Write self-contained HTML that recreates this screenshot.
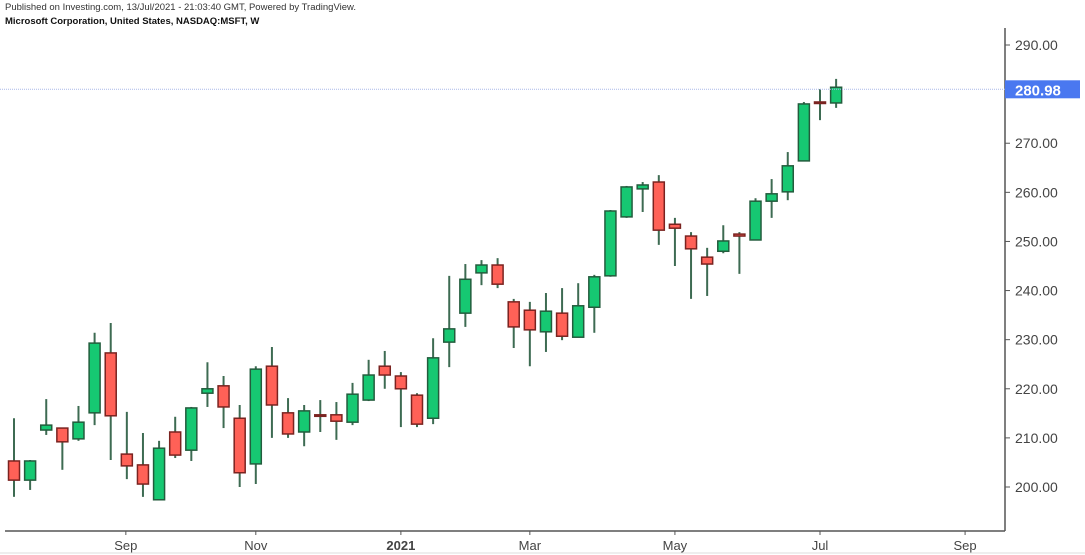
<!DOCTYPE html>
<html><head><meta charset="utf-8"><style>
body{margin:0;background:#fff;width:1085px;height:555px;overflow:hidden;font-family:"Liberation Sans",Arial,sans-serif}
svg{position:absolute;left:0;top:0}
</style></head><body>
<svg id="chart" width="1085" height="555">
<text x="5" y="10" font-size="9.5" fill="#333">Published on Investing.com, 13/Jul/2021 - 21:03:40 GMT, Powered by TradingView.</text>
<text x="5" y="24" font-size="9.5" font-weight="bold" fill="#111">Microsoft Corporation, United States, NASDAQ:MSFT, W</text>
<line x1="1005" y1="28" x2="1005" y2="531" stroke="#555" stroke-width="1.5"/>
<line x1="5" y1="531" x2="1005" y2="531" stroke="#555" stroke-width="1.5"/>
<line x1="0" y1="553" x2="1085" y2="553" stroke="#ddd" stroke-width="1"/>
<g id="yaxis"></g><g id="xaxis"></g><g id="candles"></g><g id="last"></g>
</svg>
<script>
const opens=[205.3,201.4,211.6,212.0,209.8,215.1,227.3,206.7,204.5,197.4,211.2,207.5,219.1,220.6,214.0,204.7,224.6,215.1,211.2,214.7,214.7,213.2,217.7,224.6,222.6,218.7,214.0,229.5,235.4,243.6,245.2,237.7,236.0,231.6,235.4,230.5,236.6,243.0,255.0,260.7,262.1,253.5,251.1,246.8,248.0,251.5,250.3,258.2,260.1,266.4,278.4,278.2];
const highs=[214.0,205.5,217.9,212.1,216.5,231.4,233.4,215.3,211.0,209.4,214.3,216.3,225.4,222.6,216.7,224.6,228.5,218.1,216.7,217.7,217.3,221.2,225.9,227.7,223.4,219.1,230.3,243.0,245.4,246.2,246.6,238.3,237.7,239.5,240.5,241.5,243.2,256.4,261.3,262.1,263.5,254.8,251.9,248.7,253.3,251.9,258.8,262.7,268.2,278.4,281.0,283.1];
const lows=[198.0,199.4,210.6,203.5,209.4,212.6,205.5,201.6,198.0,197.4,205.9,205.3,216.3,212.0,200.0,200.6,210.0,210.0,208.3,211.2,209.6,212.6,217.5,220.0,212.2,212.2,212.8,224.4,232.6,241.1,240.5,228.3,224.6,227.5,229.9,230.5,231.4,242.8,254.8,256.0,249.3,245.0,238.3,238.9,247.6,243.4,250.3,254.8,258.4,266.4,274.7,277.2];
const closes=[201.4,205.3,212.6,209.2,213.2,229.3,214.5,204.3,200.6,207.9,206.5,216.1,220.0,216.3,202.9,224.0,216.7,210.8,215.5,214.5,213.4,218.9,222.8,222.8,220.0,212.8,226.3,232.2,242.3,245.2,241.3,232.6,232.0,235.8,230.7,236.9,242.8,256.2,261.1,261.5,252.3,252.7,248.5,245.4,250.1,251.1,258.2,259.7,265.4,278.0,278.2,281.4];
const yTicks=[200,210,220,230,240,250,260,270,290];
const xLabels=["Sep","Nov","2021","Mar","May","Jul","Sep"];
const xLabelIdx=[7,15,24,32,41,50,59];
const lastPrice=280.98;
const NS="http://www.w3.org/2000/svg";
const y=p=>487-(p-200)*4.911;
const x=i=>14+i*16.12;
function mk(tag,attrs,parent){const e=document.createElementNS(NS,tag);for(const k in attrs)e.setAttribute(k,attrs[k]);parent.appendChild(e);return e;}
const ya=document.getElementById('yaxis');
yTicks.forEach(t=>{
  const l=mk('line',{x1:1005,x2:1010,y1:y(t),y2:y(t),stroke:'#555'},ya);
  
  
  const tx=mk('text',{x:1015,y:y(t)+5,'font-size':14,fill:'#444'},ya);
  tx.textContent=t.toFixed(2);
  
  
});
const xa=document.getElementById('xaxis');
xLabels.forEach((s,k)=>{
  const px=x(xLabelIdx[k])+(k==0?-1:0);
  const l=mk('line',{x1:px,x2:px,y1:531,y2:535,stroke:'#555'},xa);
  
  
  const tx=mk('text',{x:px,y:550,'font-size':13,fill:'#444','text-anchor':'middle','font-weight':s=='2021'?'bold':'normal'},xa);
  tx.textContent=s;
  
  
});
const cg=document.getElementById('candles');
opens.forEach((o,i)=>{
  const c=closes[i],up=c>=o,cx=x(i);
  const g=mk('g',{},cg);
  
  
  mk('line',{x1:cx,x2:cx,y1:y(highs[i]),y2:y(lows[i]),stroke:'#3d6b52','stroke-width':2},g);
  const top=y(Math.max(o,c)),h=Math.max(1.5,Math.abs(y(o)-y(c)));
  mk('rect',{x:cx-5.5,y:top,width:11,height:h,fill:up?'#16c872':'#ff6157',stroke:up?'#235c3d':'#7a2320','stroke-width':1.5},g);
});
const lg=document.getElementById('last');
const ly=y(lastPrice);
const dl=mk('line',{x1:0,x2:1005,y1:ly,y2:ly,stroke:'#aab8e8','stroke-width':1,'stroke-dasharray':'1,1'},lg);


const r=mk('rect',{x:1005,y:ly-9,width:75,height:18,fill:'#4a78f0'},lg);


const lt=mk('text',{x:1015,y:ly+6,'font-size':15,fill:'#fff','font-weight':'bold'},lg);
lt.textContent=lastPrice.toFixed(2);


</script>
</body></html>
